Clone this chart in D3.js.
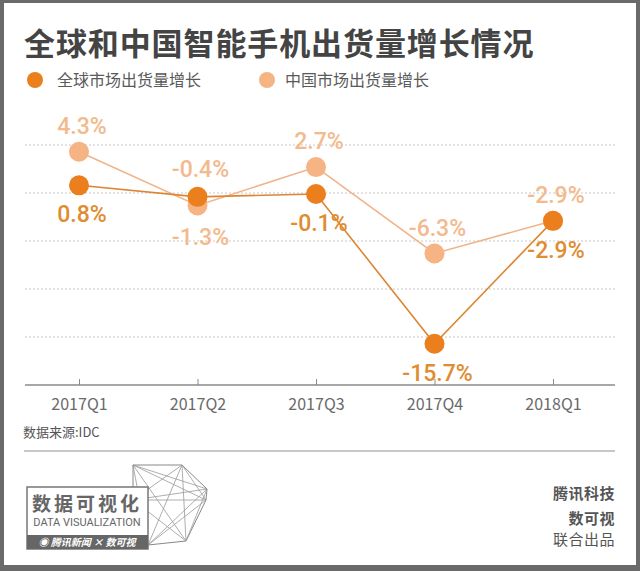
<!DOCTYPE html>
<html>
<head>
<meta charset="utf-8">
<script src="https://cdn.jsdelivr.net/npm/d3@7"></script>
<style>
  body { margin: 0; background: #fff; }
  svg { display: block; }
</style>
</head>
<body>
<script>
const width = 640;
const height = 571;

// data
const quarters = ["2017Q1", "2017Q2", "2017Q3", "2017Q4", "2018Q1"];
const globalGrowth = [0.8, -0.4, -0.1, -15.7, -2.9];
const chinaGrowth = [4.3, -1.3, 2.7, -6.3, -2.9];
const seriesNames = ["全球市场出货量增长", "中国市场出货量增长"];
const gridValues = [5, 0, -5, -10, -15];

const dark = "#eb7f1e";
const light = "#f6b383";
const darkText = "#e08c30";
const lightText = "#f2ba8d";
const cnFont = "'Noto Sans CJK SC', 'Noto Sans', sans-serif";
const numFont = "Roboto, 'Noto Sans', sans-serif";

const svg = d3.select("body")
    .append("svg")
    .attr("width", width)
    .attr("height", height);

// frame
svg.append("rect").attr("width", width).attr("height", height).attr("fill", "#6a6a6a");
svg.append("rect").attr("x", 4).attr("y", 3).attr("width", 632).attr("height", 562).attr("fill", "#fff");

// title
svg.append("text")
    .attr("x", 24).attr("y", 55)
    .attr("font-family", cnFont).attr("font-weight", 700)
    .attr("font-size", 31).attr("letter-spacing", 0.9)
    .attr("fill", "#444")
    .text("全球和中国智能手机出货量增长情况");

// legend
const legend = svg.append("g");
[[35, 57, dark], [267, 285, light]].forEach((p, i) => {
    legend.append("circle").attr("cx", p[0]).attr("cy", 80).attr("r", 8).attr("fill", p[2]);
    legend.append("text")
        .attr("x", p[1]).attr("y", 86)
        .attr("font-family", cnFont).attr("font-size", 16)
        .attr("fill", "#5a5a5a")
        .text(seriesNames[i]);
});

const xScale = d3.scalePoint()
    .domain(quarters)
    .range([79, 553]);
const yScale = d3.scaleLinear()
    .domain([-20, 5])
    .range([385, 145]);

// grid
svg.append("g").selectAll("line")
    .data(gridValues)
    .enter()
    .append("line")
    .attr("x1", 25).attr("x2", 615)
    .attr("y1", d => yScale(d)).attr("y2", d => yScale(d))
    .attr("stroke", "#c8c8c8")
    .attr("stroke-width", 1)
    .attr("stroke-dasharray", "2,2");

// x axis
const xAxis = d3.axisBottom(xScale).tickSize(-6).tickPadding(14);
const gx = svg.append("g")
    .attr("transform", `translate(0, ${yScale(-20)})`)
    .call(xAxis);
gx.select(".domain").remove();
gx.append("line").attr("x1", 25).attr("x2", 615).attr("stroke", "#8a8a8a").attr("stroke-width", 1.5);
gx.selectAll(".tick line").attr("stroke", "#8a8a8a");
gx.selectAll(".tick text")
    .attr("font-family", cnFont).attr("font-size", 16)
    .attr("fill", "#6a6a6a");

// lines and points
const line = d3.line()
    .x((d, i) => xScale(quarters[i]))
    .y(d => yScale(d));

[[chinaGrowth, light], [globalGrowth, dark]].forEach(([vals, col]) => {
    svg.append("path")
        .datum(vals)
        .attr("d", line)
        .attr("fill", "none")
        .attr("stroke", col === dark ? "#dc8633" : "#f0b48a")
        .attr("stroke-width", 1.6);
    svg.append("g").selectAll("circle")
        .data(vals)
        .enter()
        .append("circle")
        .attr("cx", (d, i) => xScale(quarters[i]))
        .attr("cy", d => yScale(d))
        .attr("r", 10)
        .attr("fill", col);
});

// value labels: upper point's label above, lower point's below
const labels = svg.append("g")
    .attr("font-family", numFont).attr("font-size", 23).attr("font-weight", 500)
    .attr("text-anchor", "middle");
quarters.forEach((q, i) => {
    const g = globalGrowth[i], c = chinaGrowth[i];
    const globalAbove = g > c;
    labels.append("text")
        .attr("x", xScale(q) + 3)
        .attr("y", yScale(c) + (globalAbove ? 31 : -26))
        .attr("dy", "0.35em")
        .attr("fill", lightText)
        .text(c + "%");
    labels.append("text")
        .attr("x", xScale(q) + 3)
        .attr("y", yScale(g) + (globalAbove ? -28 : 29))
        .attr("dy", "0.35em")
        .attr("fill", globalAbove ? lightText : darkText)
        .text(g + "%");
});

// source
svg.append("text")
    .attr("x", 23).attr("y", 437)
    .attr("font-family", cnFont).attr("font-size", 13)
    .attr("fill", "#555")
    .text("数据来源:IDC");

svg.append("line")
    .attr("x1", 24).attr("x2", 615).attr("y1", 451).attr("y2", 451)
    .attr("stroke", "#b5b5b5").attr("stroke-width", 1.5);

// logo
const logo = svg.append("g");
const poly = [[133, 465], [182, 465], [207, 489], [206, 500], [186, 541], [148, 545], [133, 500]];
logo.append("polygon")
    .attr("points", poly.map(p => p.join(",")).join(" "))
    .attr("fill", "none").attr("stroke", "#888").attr("stroke-width", 1);
for (let a = 0; a < poly.length; a++) {
    for (let b = a + 2; b < poly.length; b++) {
        if (a === 0 && b === poly.length - 1) continue;
        logo.append("line")
            .attr("x1", poly[a][0]).attr("y1", poly[a][1])
            .attr("x2", poly[b][0]).attr("y2", poly[b][1])
            .attr("stroke", "#999").attr("stroke-width", 0.8);
    }
}
logo.append("rect")
    .attr("x", 27).attr("y", 487).attr("width", 121).attr("height", 62)
    .attr("fill", "#fff").attr("stroke", "#777").attr("stroke-width", 1.5);
logo.append("rect")
    .attr("x", 27).attr("y", 535).attr("width", 121).attr("height", 14)
    .attr("fill", "#666");
logo.append("text")
    .attr("x", 87).attr("y", 511).attr("text-anchor", "middle")
    .attr("font-family", cnFont).attr("font-weight", 700).attr("font-size", 19)
    .attr("letter-spacing", 3)
    .attr("fill", "#666")
    .text("数据可视化");
logo.append("text")
    .attr("x", 87).attr("y", 526).attr("text-anchor", "middle")
    .attr("font-family", "Roboto, sans-serif").attr("font-size", 11)
    .attr("fill", "#666")
    .text("DATA VISUALIZATION");
logo.append("text")
    .attr("x", 87).attr("y", 546).attr("text-anchor", "middle")
    .attr("font-family", cnFont).attr("font-weight", 700).attr("font-size", 10)
    .attr("font-style", "italic")
    .attr("fill", "#fff")
    .text("◉ 腾讯新闻 × 数可视");

// credits
const credits = [["腾讯科技", 700, 499], ["数可视", 700, 524], ["联合出品", 400, 545]];
credits.forEach(([t, w, y]) => {
    svg.append("text")
        .attr("x", 615).attr("y", y).attr("text-anchor", "end")
        .attr("font-family", cnFont).attr("font-weight", w).attr("font-size", 15)
        .attr("letter-spacing", 0.5)
        .attr("fill", "#555")
        .text(t);
});
</script>
</body>
</html>
